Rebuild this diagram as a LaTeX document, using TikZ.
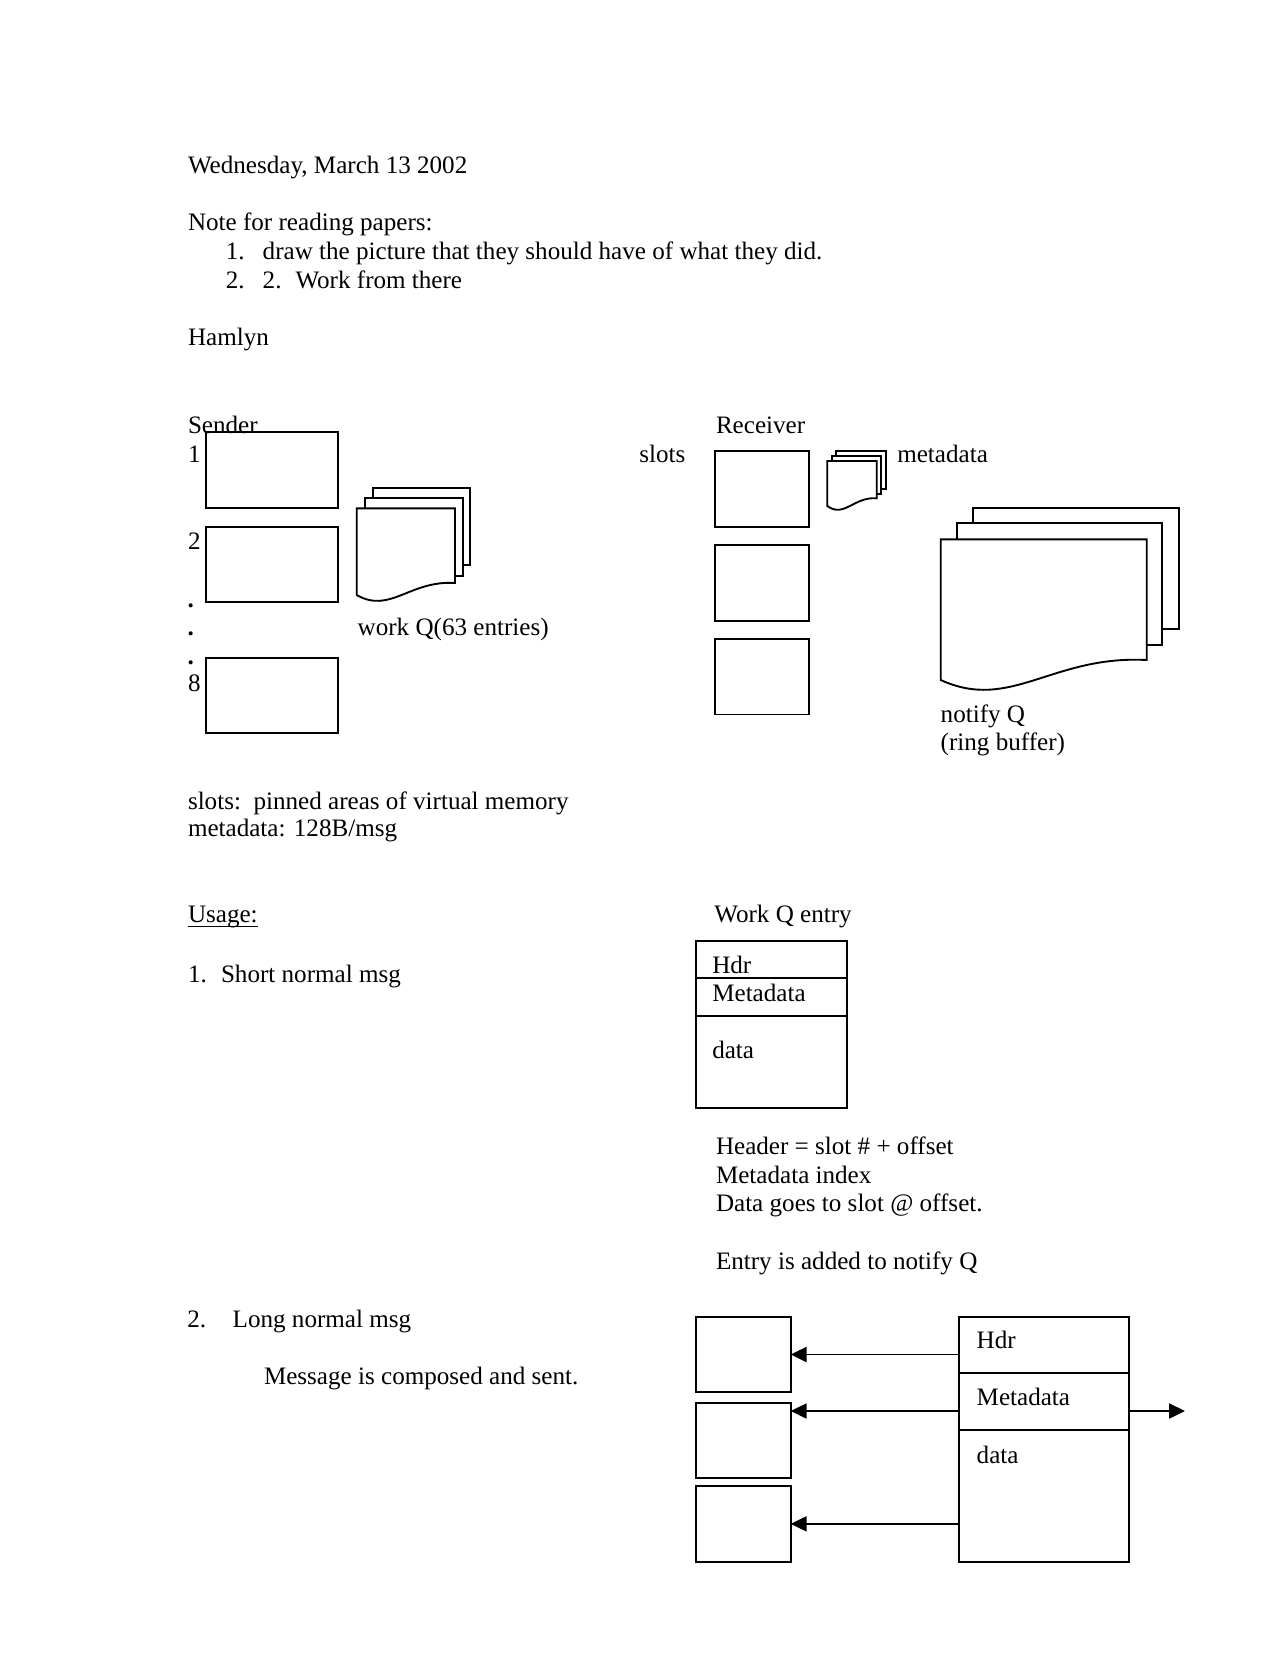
\documentclass[tikz,border=0pt]{standalone}
\usepackage{fontspec}
\setmainfont{Liberation Serif}
\usetikzlibrary{arrows.meta}
\tikzset{
  txt/.style={anchor=base west, inner sep=0pt, outer sep=0pt, font=\fontsize{12pt}{14pt}\selectfont},
  bx/.style 2 args={draw, line width=0.9pt, inner sep=0pt, outer sep=0pt,
    minimum width={#1*0.478125pt}, minimum height={#2*0.478125pt}},
  pg/.style={draw, line width=0.9pt, fill=white, line join=miter},
  ln/.style={line width=0.9pt},
  arr/.style={line width=0.85pt, -{Triangle[length=7.6pt,width=7.2pt]}}
}
\newcommand{\docfront}[5]{%
  \pgfmathsetmacro\dcW{#3-#1}%
  \pgfmathsetmacro\dcH{#4-#5}%
  \pgfmathsetmacro\dcAx{#1+0.34*\dcW}%
  \pgfmathsetmacro\dcAy{#4+1.6*\dcH}%
  \pgfmathsetmacro\dcBx{#1+0.54*\dcW}%
  \pgfmathsetmacro\dcBy{#4-1.25*\dcH}%
  \draw[pg] (#1,#4) -- (#1,#2) -- (#3,#2) -- (#3,#5) .. controls (\dcBx,\dcBy) and (\dcAx,\dcAy) .. (#1,#4) -- cycle;
}
\begin{document}
\begin{tikzpicture}[x=0.478125pt, y=-0.478125pt]
\useasboundingbox[fill=white] (0,0) rectangle (1280,1656);

% header text
\node[txt] (date) at (188,173.3) {Wednesday, March 13 2002};
\node[txt] (note) at (188,230.7) {Note for reading papers:};
\node[txt] (n1) at (225.8,259.3) {1.};
\node[txt] (n1t) at (262.7,259.3) {draw the picture that they should have of what they did.};
\node[txt] (n2) at (225.8,288) {2.};
\node[txt] (n2b) at (262.7,288) {2.};
\node[txt] (n2t) at (295.5,288) {Work from there};
\node[txt] (hamlyn) at (188,345.3) {Hamlyn};

% sender
\node[txt] (sender) at (188,433.3) {Sender};
\node[txt] (l1) at (188,462) {1};
\node[txt] (l2) at (188,549) {2};
\node[txt] (d1) at (187.5,607) {\textbf{.}};
\node[txt] (d2) at (187.5,635) {\textbf{.}};
\node[txt] (d3) at (187.5,664) {\textbf{.}};
\node[txt] (l8) at (188,691.7) {8};
\node[bx={132.3}{75.4}] (sb1) at (272.2,470) {};
\node[bx={132.3}{75}] (sb2) at (272.2,564.2) {};
\node[bx={132.3}{75.6}] (sb8) at (272.2,695.5) {};

% work Q stack
\draw[pg] (372.7,488.3) rectangle (470,565);
\draw[pg] (365,498.3) rectangle (462.7,576);
\docfront{356.7}{508.3}{455}{595}{583}
\node[txt] (wql) at (357.7,635) {work Q(63 entries)};

% receiver
\node[txt] (slotsl) at (639.3,462.3) {slots};
\node[txt] (recv) at (716,433.3) {Receiver};
\node[bx={94.3}{75.5}] (r1) at (762.2,488.9) {};
\node[bx={94.3}{75.5}] (r2) at (762.2,582.9) {};
\node[bx={94.3}{75.5}] (r3) at (762.2,676.7) {};

% metadata stack
\draw[pg] (835.7,451) rectangle (885.7,489.3);
\draw[pg] (831.7,456) rectangle (881,494);
\docfront{827.3}{461}{876.7}{506}{498.3}
\node[txt] (mdl) at (897.3,462.3) {metadata};

% notify Q stack
\draw[pg] (973.3,507.7) rectangle (1179.3,629);
\draw[pg] (957.3,523.3) rectangle (1161.7,645);
\docfront{940.7}{539.3}{1146.7}{680}{660}
\node[txt] (nq1) at (940.7,722) {notify Q};
\node[txt] (nq2) at (940.7,750.5) {(ring buffer)};

% definitions
\node[txt] (def1) at (188,809.3) {slots:\ \ pinned areas of virtual memory};
\node[txt] (def2) at (188,836.7) {metadata: 128B/msg};

% usage
\node[txt] (usage) at (188,922.5) {Usage:};
\draw[line width=0.5pt] ([yshift=-1.7pt]usage.base west) -- ([yshift=-1.7pt]usage.base east);
\node[txt] (u1) at (188,982.5) {1.};
\node[txt] (u1t) at (221,982.5) {Short normal msg};

% work Q entry
\node[txt] (wqe) at (714.4,922.5) {Work Q entry};
\node[bx={151}{167.3}] (wq) at (771.2,1024.35) {};
\draw[ln] (695.7,978.3) -- (846.7,978.3);
\draw[ln] (695.7,1016) -- (846.7,1016);
\node[txt] (wqh) at (712.3,973.3) {Hdr};
\node[txt] (wqm) at (712.3,1001) {Metadata};
\node[txt] (wqd) at (712.3,1058.3) {data};

\node[txt] (e1) at (716,1154.3) {Header = slot \# + offset};
\node[txt] (e2) at (716,1183.3) {Metadata index};
\node[txt] (e3) at (716,1211.7) {Data goes to slot @ offset.};
\node[txt] (e4) at (716,1269) {Entry is added to notify Q};

% long msg
\node[txt] (u2) at (187.3,1327.5) {2.};
\node[txt] (u2t) at (232.7,1327.5) {Long normal msg};
\node[txt] (u2s) at (264,1384.5) {Message is composed and sent.};

\node[bx={94.7}{75.6}] (lb1) at (743.35,1354.5) {};
\node[bx={94.7}{75}] (lb2) at (743.35,1440.8) {};
\node[bx={94.7}{75.7}] (lb3) at (743.35,1523.85) {};
\node[bx={170}{245}] (rb) at (1044.3,1439.2) {};
\draw[ln] (959.3,1373.3) -- (1129.3,1373.3);
\draw[ln] (959.3,1430) -- (1129.3,1430);
\node[txt] (rbh) at (976.7,1348.3) {Hdr};
\node[txt] (rbm) at (976.7,1405) {Metadata};
\node[txt] (rbd) at (976.7,1463.3) {data};

\coordinate (a2) at (0,1411);
\coordinate (out) at (1185,1411);
\draw[arr] (rb.west |- lb1.east) -- (lb1.east);
\draw[arr] (rb.west |- a2) -- (lb2.east |- a2);
\draw[arr] (rb.west |- lb3.east) -- (lb3.east);
\draw[arr] (rb.east |- a2) -- (out);
\end{tikzpicture}
\end{document}
